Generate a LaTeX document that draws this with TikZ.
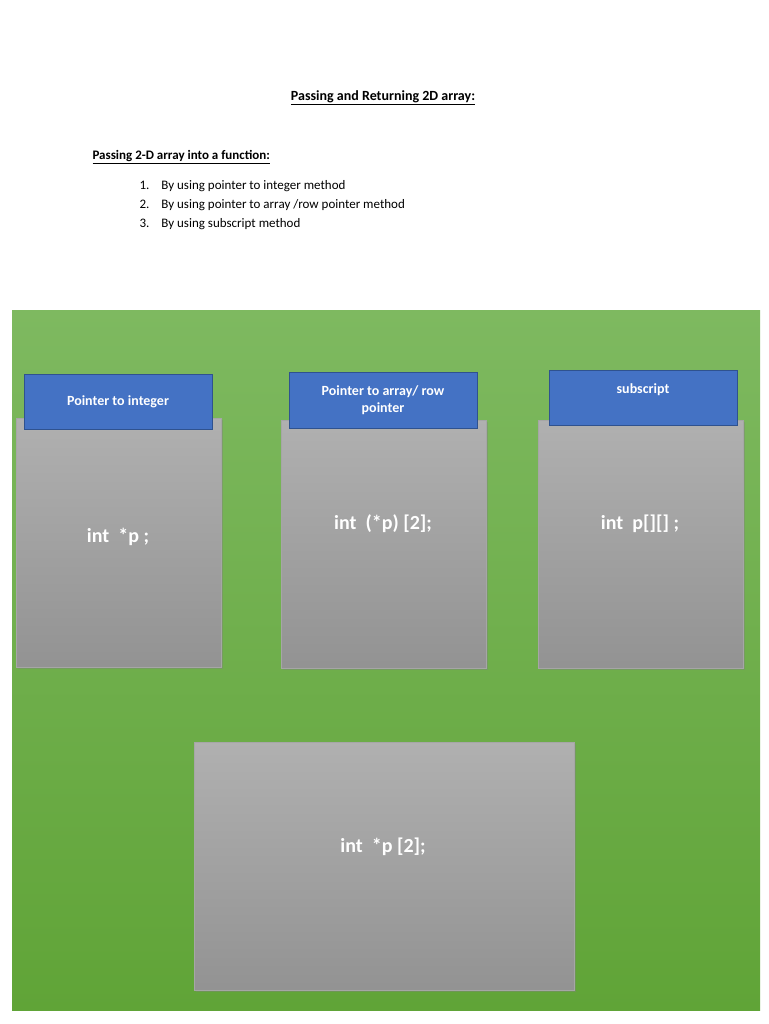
\documentclass[tikz,border=0pt]{standalone}
\usepackage{fontspec}
\setmainfont{Carlito}
\usetikzlibrary{shadows}
\definecolor{bluebox}{HTML}{4472C4}
\definecolor{bluedark}{HTML}{2F528F}
\tikzset{
  codebox/.style={top color=gray!62,bottom color=gray!85,draw=gray!70,drop shadow={opacity=0.4}},
  headbox/.style={fill=bluebox,draw=bluedark,text=white,font=\fontsize{14}{17}\selectfont\bfseries,align=center},
  codetext/.style={text=white,font=\fontsize{20}{24}\selectfont\bfseries},
  listtext/.style={anchor=west,font=\fontsize{13}{16}\selectfont}
}
\begin{document}
\begin{tikzpicture}[x=1pt,y=-1pt]
\useasboundingbox (0,0) rectangle (768,1024);
% heading
\node (title) at (383,98) {\fontsize{14}{17}\selectfont\bfseries\underline{Passing and Returning 2D array:}};
\node[anchor=west] (sub) at (89,157) {\fontsize{13}{16}\selectfont\bfseries\underline{Passing 2-D array into a function:}};
\node[listtext] (l1) at (136,186) {1.\hspace{12pt}By using pointer to integer method};
\node[listtext] (l2) at (136,205) {2.\hspace{12pt}By using pointer to array /row pointer method};
\node[listtext] (l3) at (136,224) {3.\hspace{12pt}By using subscript method};
% background
\shade[top color={rgb,255:red,126;green,185;blue,96},bottom color={rgb,255:red,96;green,164;blue,55}] (12,310) rectangle (760,1010);
% code boxes
\draw[codebox] (16,418) rectangle (221,667);
\draw[codebox] (281,420) rectangle (486,668);
\draw[codebox] (538,420) rectangle (743,668);
\draw[codebox] (194,742) rectangle (574,990);
\node[codetext] (c1) at (118,537) {int\ \ *p ;};
\node[codetext] (c2) at (383,524) {int\ \ (*p) [2];};
\node[codetext] (c3) at (640,524) {int\ \ p[][] ;};
\node[codetext] (c4) at (383,847) {int\ \ *p [2];};
% labels
\node[headbox,minimum width=188pt,minimum height=55pt] (h1) at (118,402) {Pointer to integer};
\node[headbox,minimum width=188pt,minimum height=56pt] (h2) at (383,400) {Pointer to array/ row\\pointer};
\node[headbox,minimum width=188pt,minimum height=55pt,text depth=18pt] (h3) at (643,398) {subscript};
\end{tikzpicture}
\end{document}
